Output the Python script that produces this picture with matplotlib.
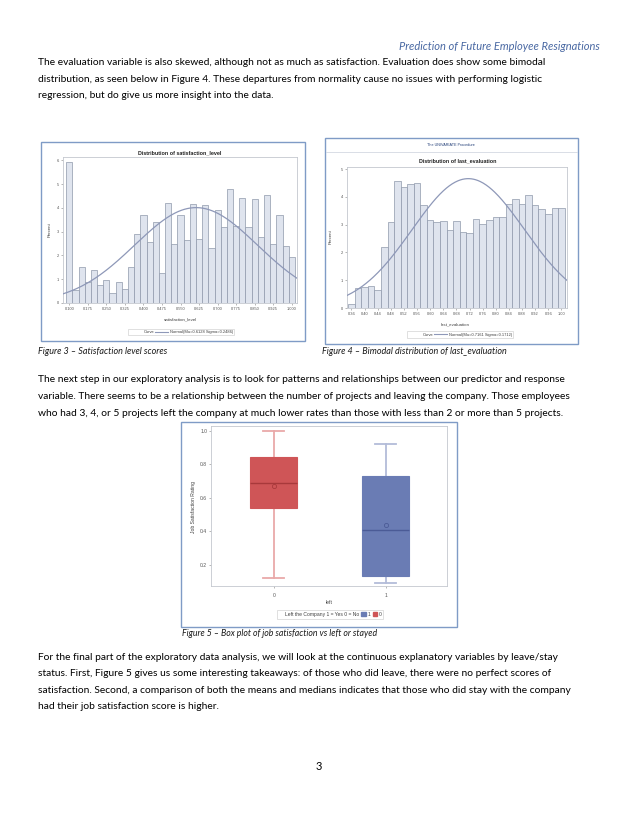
import numpy as np
import matplotlib
matplotlib.use('Agg')
import matplotlib.pyplot as plt
from matplotlib.patches import Rectangle, Patch
from matplotlib.lines import Line2D

# ---------------- data ----------------
header_text = "Prediction of Future Employee Resignations"
para1 = [
    "The evaluation variable is also skewed, although not as much as satisfaction. Evaluation does show some bimodal",
    "distribution, as seen below in Figure 4. These departures from normality cause no issues with performing logistic",
    "regression, but do give us more insight into the data.",
]
para2 = [
    "The next step in our exploratory analysis is to look for patterns and relationships between our predictor and response",
    "variable. There seems to be a relationship between the number of projects and leaving the company. Those employees",
    "who had 3, 4, or 5 projects left the company at much lower rates than those with less than 2 or more than 5 projects.",
]
para3 = [
    "For the final part of the exploratory data analysis, we will look at the continuous explanatory variables by leave/stay",
    "status. First, Figure 5 gives us some interesting takeaways: of those who did leave, there were no perfect scores of",
    "satisfaction. Second, a comparison of both the means and medians indicates that those who did stay with the company",
    "had their job satisfaction score is higher.",
]
cap3 = "Figure 3 \u2013 Satisfaction level scores"
cap4 = "Figure 4 \u2013 Bimodal distribution of last_evaluation"
cap5 = "Figure 5 \u2013 Box plot of job satisfaction vs left or stayed"

# Figure 3: satisfaction_level histogram (percent)
sat_first_bin = 0.100
sat_bin_width = 0.025
sat_pct = [5.94, 0.56, 1.52, 0.90, 1.39, 0.76, 0.96, 0.41, 0.90, 0.59,
           1.52, 2.89, 3.70, 2.55, 3.41, 1.28, 4.20, 2.50, 3.70, 2.65,
           4.17, 2.68, 4.13, 2.30, 3.92, 3.18, 4.79, 3.25, 4.40, 3.18,
           4.37, 2.76, 4.55, 2.48, 3.69, 2.39, 1.92]
sat_mu, sat_sigma = 0.6128, 0.2486
sat_xticks = [0.100, 0.175, 0.250, 0.325, 0.400, 0.475, 0.550, 0.625,
              0.700, 0.775, 0.850, 0.925, 1.000]
sat_yticks = [0, 1, 2, 3, 4, 5, 6]

# Figure 4: last_evaluation histogram (percent)
ev_first_bin = 0.36
ev_bin_width = 0.02
ev_pct = [0.16, 0.72, 0.76, 0.78, 0.64, 2.18, 3.10, 4.57, 4.36, 4.48,
          4.52, 3.70, 3.16, 3.10, 3.12, 2.82, 3.12, 2.74, 2.72, 3.22,
          3.04, 3.16, 3.28, 3.28, 3.76, 3.92, 3.74, 4.06, 3.70, 3.55,
          3.38, 3.60, 3.60]
ev_mu, ev_sigma = 0.7161, 0.1712
ev_xticks = [0.36, 0.40, 0.44, 0.48, 0.52, 0.56, 0.60, 0.64, 0.68, 0.72,
             0.76, 0.80, 0.84, 0.88, 0.92, 0.96, 1.00]
ev_yticks = [0, 1, 2, 3, 4, 5]

# Figure 5: box plot of satisfaction by left
box_groups = ["0", "1"]
box_whislo = [0.12, 0.09]
box_q1 = [0.54, 0.13]
box_med = [0.69, 0.41]
box_q3 = [0.84, 0.73]
box_whishi = [1.00, 0.92]
box_mean = [0.667, 0.44]
box_yticks = [0.2, 0.4, 0.6, 0.8, 1.0]

# ---------------- figure ----------------
W, H = 638, 826
fig = plt.figure(figsize=(W / 100, H / 100), dpi=100)
fig.patch.set_facecolor('white')

BODY = ['Lato', 'DejaVu Sans']
SAS = ['Liberation Sans', 'DejaVu Sans']

def fx(x):
    return x / W

def fy(y):
    return 1 - y / H

def axrect(l, t, r, b):
    return [l / W, 1 - b / H, (r - l) / W, (b - t) / H]

def frame_box(l, t, r, b, color='#7f9bc6', lw=1.0):
    fig.add_artist(Rectangle((fx(l), fy(b)), (r - l) / W, (b - t) / H,
                             transform=fig.transFigure, fill=False,
                             edgecolor=color, linewidth=lw))

def body_lines(lines, x, y0, dy, size=7.4):
    for i, s in enumerate(lines):
        fig.text(fx(x), fy(y0 + i * dy), s, family=BODY, fontsize=size,
                 color='#000000', ha='left', va='center')

# header and body text
fig.text(fx(600), fy(46), header_text, family=BODY, style='italic',
         fontsize=8.0, color='#4a69a3', ha='right', va='center')
body_lines(para1, 37.5, 62.5, 16.5)
body_lines(para2, 37.5, 380, 16.5)
body_lines(para3, 37.5, 657.5, 16.3)
fig.text(fx(319), fy(767), "3", family=BODY, fontsize=8.0, color='#000000',
         ha='center', va='center')

fig.text(fx(38), fy(352), cap3, family=BODY, style='italic', fontsize=6.5,
         color='#1a1a1a', ha='left', va='center')
fig.text(fx(322), fy(352), cap4, family=BODY, style='italic', fontsize=6.5,
         color='#1a1a1a', ha='left', va='center')
fig.text(fx(182), fy(634), cap5, family=BODY, style='italic', fontsize=6.3,
         color='#1a1a1a', ha='left', va='center')

# outer boxes
frame_box(41, 142, 305, 341)
frame_box(325, 138, 578, 344)
frame_box(181, 422, 457, 627)

BAR_FC = '#dfe4ee'
BAR_EC = '#8f98ab'
CURVE_C = '#8e98b8'
TXT = '#404040'

def style_sas_axes(ax, tick_size):
    for sp in ax.spines.values():
        sp.set_color('#c4c8cf')
        sp.set_linewidth(0.6)
    ax.tick_params(axis='both', direction='out', length=1.5, width=0.5,
                   color='#9a9a9a', labelsize=tick_size, labelcolor='#555555',
                   pad=1.2)
    ax.tick_params(axis='x', pad=1.6)
    for lab in ax.get_xticklabels() + ax.get_yticklabels():
        lab.set_family(SAS)

# ---- Figure 3 ----
ax3 = fig.add_axes(axrect(63, 157, 297, 303))
sat_centers = sat_first_bin + sat_bin_width * np.arange(len(sat_pct))
ax3.bar(sat_centers, sat_pct, width=sat_bin_width, color=BAR_FC,
        edgecolor=BAR_EC, linewidth=0.5, zorder=2)
ax3.set_xlim(0.0745, 1.021)
ax3.set_ylim(0, 6.14)
xs = np.linspace(0.0745, 1.021, 300)
ax3.plot(xs, sat_bin_width * 100 / (sat_sigma * np.sqrt(2 * np.pi)) *
         np.exp(-0.5 * ((xs - sat_mu) / sat_sigma) ** 2),
         color=CURVE_C, linewidth=0.9, zorder=3)
ax3.set_xticks(sat_xticks)
ax3.set_xticklabels([f"{v:.3f}" for v in sat_xticks])
ax3.set_yticks(sat_yticks)
style_sas_axes(ax3, 2.9)
fig.text(fx(180), fy(153), "Distribution of satisfaction_level", family=SAS,
         fontsize=3.9, weight='bold', color='#222222', ha='center', va='center')
fig.text(fx(181), fy(319.5), "satisfaction_level", family=SAS, fontsize=3.2,
         color=TXT, ha='center', va='center')
fig.text(fx(50), fy(230), "Percent", family=SAS, fontsize=3.2, color=TXT,
         ha='center', va='center', rotation=90)
leg3 = fig.legend([Line2D([], [], linestyle='none'),
                   Line2D([], [], color=CURVE_C, linewidth=0.8)],
                  ["Curve", f"Normal(Mu={sat_mu:.4f} Sigma={sat_sigma:.4f})"],
                  loc='center', bbox_to_anchor=(fx(181), fy(332)),
                  ncol=2, frameon=True, fancybox=False, borderpad=0.35,
                  handlelength=3.2, handletextpad=0.4, columnspacing=0.2,
                  prop={'family': SAS, 'size': 2.9})
leg3.get_frame().set_edgecolor('#c8c8c8')
leg3.get_frame().set_linewidth(0.5)
for t in leg3.get_texts():
    t.set_color(TXT)

# ---- Figure 4 ----
fig.text(fx(451), fy(145.5), "The UNIVARIATE Procedure", family=SAS,
         fontsize=2.7, color='#233f78', ha='center', va='center')
fig.add_artist(Line2D([fx(326), fx(577)], [fy(151.5), fy(151.5)],
                      transform=fig.transFigure, color='#d3d8e2', linewidth=0.6))
ax4 = fig.add_axes(axrect(347, 167, 567, 308))
ev_centers = ev_first_bin + ev_bin_width * np.arange(len(ev_pct))
ax4.bar(ev_centers, ev_pct, width=ev_bin_width, color=BAR_FC,
        edgecolor=BAR_EC, linewidth=0.5, zorder=2)
ax4.set_xlim(0.3463, 1.017)
ax4.set_ylim(0, 5.08)
xs = np.linspace(0.3463, 1.017, 300)
ax4.plot(xs, ev_bin_width * 100 / (ev_sigma * np.sqrt(2 * np.pi)) *
         np.exp(-0.5 * ((xs - ev_mu) / ev_sigma) ** 2),
         color=CURVE_C, linewidth=0.9, zorder=3)
ax4.set_xticks(ev_xticks)
ax4.set_xticklabels([f"{v:.2f}" for v in ev_xticks])
ax4.set_yticks(ev_yticks)
style_sas_axes(ax4, 2.9)
fig.text(fx(458), fy(161), "Distribution of last_evaluation", family=SAS,
         fontsize=3.9, weight='bold', color='#222222', ha='center', va='center')
fig.text(fx(455), fy(324), "last_evaluation", family=SAS, fontsize=3.2,
         color=TXT, ha='center', va='center')
fig.text(fx(331), fy(237), "Percent", family=SAS, fontsize=3.2, color=TXT,
         ha='center', va='center', rotation=90)
leg4 = fig.legend([Line2D([], [], linestyle='none'),
                   Line2D([], [], color=CURVE_C, linewidth=0.8)],
                  ["Curve", f"Normal(Mu={ev_mu:.4f} Sigma={ev_sigma:.4f})"],
                  loc='center', bbox_to_anchor=(fx(460), fy(334.5)),
                  ncol=2, frameon=True, fancybox=False, borderpad=0.35,
                  handlelength=3.2, handletextpad=0.4, columnspacing=0.2,
                  prop={'family': SAS, 'size': 2.9})
leg4.get_frame().set_edgecolor('#c8c8c8')
leg4.get_frame().set_linewidth(0.5)
for t in leg4.get_texts():
    t.set_color(TXT)

# ---- Figure 5 ----
ax5 = fig.add_axes(axrect(211, 426, 447, 586))
fills = ['#cf5557', '#6a7cb4']
meds = ['#a8393b', '#4b5b96']
whisk = ['#e9a9a9', '#b3bcd9']
stats = []
for i in range(len(box_groups)):
    stats.append(dict(label=box_groups[i], whislo=box_whislo[i], q1=box_q1[i],
                      med=box_med[i], q3=box_q3[i], whishi=box_whishi[i],
                      mean=box_mean[i], fliers=[]))
positions = list(range(len(box_groups)))
bp = ax5.bxp(stats, positions=positions, widths=0.42, capwidths=0.19,
             patch_artist=True, showmeans=True, showfliers=False,
             manage_ticks=False)
for i in range(len(box_groups)):
    bp['boxes'][i].set_facecolor(fills[i])
    bp['boxes'][i].set_edgecolor(fills[i])
    bp['boxes'][i].set_linewidth(0.8)
    bp['boxes'][i].set_zorder(3)
    bp['medians'][i].set_color(meds[i])
    bp['medians'][i].set_linewidth(1.0)
    bp['medians'][i].set_zorder(4)
    bp['means'][i].set_marker('o')
    bp['means'][i].set_markersize(3)
    bp['means'][i].set_markerfacecolor('none')
    bp['means'][i].set_markeredgecolor(meds[i])
    bp['means'][i].set_markeredgewidth(0.6)
    bp['means'][i].set_zorder(5)
    for j in (2 * i, 2 * i + 1):
        bp['whiskers'][j].set_color(whisk[i])
        bp['whiskers'][j].set_linewidth(1.3)
        bp['caps'][j].set_color(whisk[i])
        bp['caps'][j].set_linewidth(1.3)
ax5.set_xlim(-0.56, 1.547)
ax5.set_ylim(0.073, 1.028)
ax5.set_xticks(positions)
ax5.set_xticklabels(box_groups)
ax5.set_yticks(box_yticks)
ax5.set_yticklabels([f"{v:.1f}" for v in box_yticks])
style_sas_axes(ax5, 3.6)
ax5.tick_params(axis='x', pad=3.5)
fig.text(fx(329), fy(602), "left", family=SAS, fontsize=3.6, color=TXT,
         ha='center', va='center')
fig.text(fx(193), fy(507), "Job Satisfaction Rating", family=SAS,
         fontsize=3.6, color=TXT, ha='center', va='center', rotation=90)
leg5 = fig.legend([Line2D([], [], linestyle='none'),
                   Patch(facecolor=fills[1], edgecolor=fills[1]),
                   Patch(facecolor=fills[0], edgecolor=fills[0])],
                  ["Left the Company 1 = Yes 0 = No", "1", "0"],
                  loc='center', bbox_to_anchor=(fx(330), fy(614.5)),
                  ncol=3, frameon=True, fancybox=False, borderpad=0.35,
                  handlelength=0.9, handleheight=0.9, handletextpad=0.3,
                  columnspacing=0.5, prop={'family': SAS, 'size': 3.6})
leg5.get_frame().set_edgecolor('#c8c8c8')
leg5.get_frame().set_linewidth(0.5)
for t in leg5.get_texts():
    t.set_color(TXT)

fig.savefig('out.png', dpi=100, facecolor='white')
